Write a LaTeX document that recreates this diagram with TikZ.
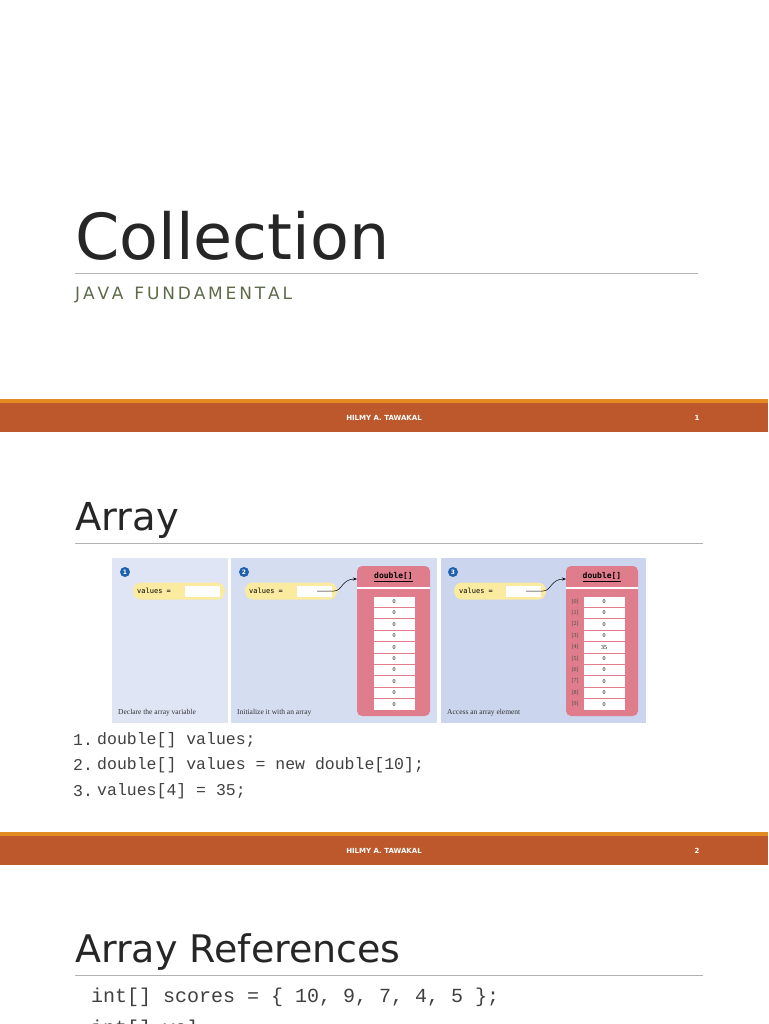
\documentclass[tikz,border=0pt]{standalone}
\usepackage{fontspec}
\setmainfont{DejaVu Sans}
\newfontfamily\codefont{Liberation Mono}
\newfontfamily\capfont{Liberation Serif}
\newfontfamily\dvmono{DejaVu Sans Mono}
\usetikzlibrary{arrows.meta}
\definecolor{titlec}{HTML}{262626}
\definecolor{subc}{HTML}{5E6B4A}
\definecolor{barc}{HTML}{BC582C}
\definecolor{barl}{HTML}{E48A22}
\definecolor{pA}{HTML}{DFE5F4}
\definecolor{pB}{HTML}{D5DDF1}
\definecolor{pC}{HTML}{CBD5EE}
\definecolor{pill}{HTML}{FAEBA0}
\definecolor{arr}{HTML}{E07D8C}
\definecolor{numc}{HTML}{1F5FAF}
\definecolor{codec}{HTML}{404040}
\tikzset{
  ttl/.style={anchor=west,inner sep=0pt,text=titlec},
  rule/.style={draw=gray!60,line width=0.8pt},
  foot/.style={text=white,font=\bfseries\fontsize{7}{8}\selectfont,inner sep=0pt},
  cell/.style={fill=white,draw=arr,line width=0.6pt,minimum width=42pt,minimum height=11.4pt,inner sep=0pt,font=\capfont\fontsize{6}{6}\selectfont},
  idx/.style={font=\capfont\fontsize{6}{6}\selectfont,text=black!70,inner sep=0pt},
  num/.style={circle,fill=numc,text=white,inner sep=0pt,minimum size=10pt,font=\bfseries\fontsize{6}{6}\selectfont},
  pillbox/.style={fill=pill,rounded corners=8pt,minimum width=92pt,minimum height=17pt,inner sep=0pt},
  lab/.style={font=\dvmono\fontsize{7}{7}\selectfont,anchor=west,inner sep=0pt},
  wbox/.style={fill=white,minimum width=35pt,minimum height=11pt,inner sep=0pt},
  captxt/.style={font=\capfont\fontsize{7.5}{8}\selectfont,anchor=west,inner sep=0pt,text=black!80},
  code/.style={font=\codefont\fontsize{16.5}{17}\selectfont,anchor=west,inner sep=0pt,text=codec},
}
\begin{document}
\begin{tikzpicture}[x=1pt,y=-1pt]
\useasboundingbox (0,0) rectangle (768,1024);
\fill[white] (0,0) rectangle (768,1024);
% slide 1
\node[ttl,font=\fontsize{63.5}{68}\selectfont] (t1) at (75,236) {Collection};
\draw[rule] (75,273) -- (698,273);
\node[ttl,text=subc,font=\fontsize{17}{18}\selectfont] (s1) at (75,295) {J\,A\,V\,A\ \ F\,U\,N\,D\,A\,M\,E\,N\,T\,A\,L};
% footers
\foreach \y/\n in {399/1,832/2}{
  \fill[barl] (0,\y) rectangle (768,\y+5);
  \fill[barc] (0,\y+4) rectangle (768,\y+33);
  \node[foot] at (384,\y+19) {HILMY A. TAWAKAL};
  \node[foot] at (697,\y+19) {\n};
}
% slide 2
\node[ttl,font=\fontsize{38.5}{42}\selectfont] (t2) at (75,520) {Array};
\draw[rule] (75,543) -- (703,543);
\fill[pA] (112,558) rectangle (228,723);
\fill[pB] (231,558) rectangle (437,723);
\fill[pC] (441,558) rectangle (646,723);
\node[num] (n1) at (125,572) {1};
\node[num] (n2) at (244,572) {2};
\node[num] (n3) at (453,572) {3};
% pills
\node[pillbox] (p1) at (179,591) {};
\node[lab] at (137,591) {values =};
\node[wbox] (w1) at (202,591) {};
\node[pillbox] (p2) at (291,591) {};
\node[lab] at (249,591) {values =};
\node[wbox] (w2) at (314,591) {};
\node[pillbox] (p3) at (500,591) {};
\node[lab] at (459,591) {values =};
\node[wbox] (w3) at (523,591) {};
% arrays
\fill[arr,rounded corners=5pt] (357,566) rectangle (430,716);
\fill[arr,rounded corners=5pt] (566,566) rectangle (638,716);
\draw[white,line width=1.5pt] (357,588) -- (430,588);
\draw[white,line width=1.5pt] (566,588) -- (638,588);
\node[font=\dvmono\bfseries\fontsize{8}{8}\selectfont,inner sep=0pt] (h2) at (393.5,577) {\underline{double[]}};
\node[font=\dvmono\bfseries\fontsize{8}{8}\selectfont,inner sep=0pt] (h3) at (602,577) {\underline{double[]}};
\foreach \i in {0,...,9}{
  \node[cell] (a\i) at (394,601.5+\i*11.4) {0};
  \ifnum\i=4
    \node[cell] (b\i) at (604,601.5+\i*11.4) {35};
  \else
    \node[cell] (b\i) at (604,601.5+\i*11.4) {0};
  \fi
  \node[idx] at (575,601.5+\i*11.4) {[\i]};
}
\coordinate (s2) at (317,591);
\coordinate (s3) at (526,591);
\coordinate (e2) at (357,579);
\coordinate (e3) at (566,579);
\draw[line width=0.5pt,-{Stealth[length=4pt]}] (s2) -- (334,591) .. controls (342,591) and (342,579) .. (e2);
\draw[line width=0.5pt,-{Stealth[length=4pt]}] (s3) -- (543,591) .. controls (551,591) and (551,579) .. (e3);
\node[captxt] at (118,713) {Declare the array variable};
\node[captxt] at (237,713) {Initialize it with an array};
\node[captxt] at (447,713) {Access an array element};
% list
\node[code] at (73,740) {1.};
\node[code] at (97,740) {double[] values;};
\node[code] at (73,765) {2.};
\node[code] at (97,765) {double[] values = new double[10];};
\node[code] at (73,791) {3.};
\node[code] at (97,791) {values[4] = 35;};
% slide 3
\node[ttl,font=\fontsize{38}{42}\selectfont] (t3) at (75,952) {Array References};
\draw[rule] (75,975) -- (703,975);
\node[code,font=\codefont\fontsize{20}{20}\selectfont] at (91,997) {int[] scores = \{ 10, 9, 7, 4, 5 \};};
\node[code,font=\codefont\fontsize{20}{20}\selectfont] at (91,1029) {int[] val};
\end{tikzpicture}
\end{document}
